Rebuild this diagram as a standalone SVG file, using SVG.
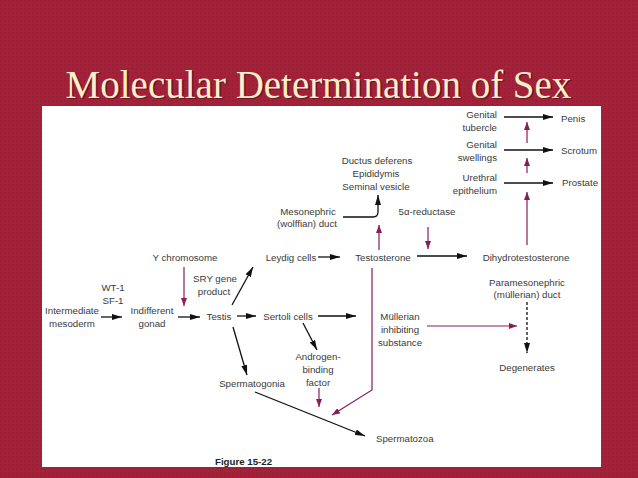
<svg xmlns="http://www.w3.org/2000/svg" width="638" height="478" viewBox="0 0 638 478">
<defs>
<pattern id="dots" width="4" height="4" patternUnits="userSpaceOnUse">
<rect width="4" height="4" fill="#a3223a"/>
<rect x="0" y="0" width="1.5" height="1.5" fill="#951d34"/>
</pattern>
<marker id="ab" viewBox="0 0 10 6" refX="10" refY="3" markerWidth="10" markerHeight="6" markerUnits="userSpaceOnUse" orient="auto"><path d="M0,0 L10,3 L0,6 z" fill="#111"/></marker>
<marker id="ap" viewBox="0 0 8 6" refX="8" refY="3" markerWidth="8" markerHeight="6" markerUnits="userSpaceOnUse" orient="auto"><path d="M0,0 L8,3 L0,6 z" fill="#8a1c5a"/></marker>
<style>
.t{font-family:"Liberation Sans",Arial,sans-serif;font-size:9.7px;fill:#3a3a3a;text-anchor:middle}
.r{text-anchor:end}
.s{text-anchor:start}
.fig{font-family:"Liberation Sans",Arial,sans-serif;font-size:9.7px;font-weight:bold;fill:#222}
.k{stroke:#111;stroke-width:1.3;fill:none}
.kh{marker-end:url(#ab)}
.p{stroke:#8a1c5a;stroke-width:1.2;fill:none}
.ph{marker-end:url(#ap)}
.title{font-family:"Liberation Serif","Times New Roman",serif;font-size:39px;text-anchor:middle}
</style>
</defs>
<rect width="638" height="478" fill="url(#dots)"/>
<text class="title" x="320" y="99" fill="#5a0d1c" opacity="0.7">Molecular Determination of Sex</text>
<text class="title" x="318.5" y="97.5" fill="#fbefc9">Molecular Determination of Sex</text>
<rect x="42" y="106" width="559" height="361" fill="#ffffff"/>

<g id="connectors">
<path class="k kh" d="M101,317 H122"/>
<path class="k kh" d="M178,317 H200"/>
<path class="k kh" d="M232,305 L253,267"/>
<path class="k kh" d="M237,316 H256"/>
<path class="k kh" d="M233,327 L247,375"/>
<path class="k kh" d="M318,257 H340"/>
<path class="k kh" d="M417,256 H467"/>
<path class="k kh" d="M318,316 H356"/>
<path class="k kh" d="M303,323 L317,350"/>
<path class="k kh" d="M255,392 L365,436"/>
<path class="k kh" d="M343,217 H373 Q378,217 378,212 V195"/>
<path class="k kh" d="M504,117 H553"/>
<path class="k kh" d="M504,150 H553"/>
<path class="k kh" d="M504,183 H553"/>
<path class="k kh" d="M527,302 V353" stroke-dasharray="3,2"/>
<path class="p ph" d="M184,267 V306"/>
<path class="p ph" d="M379,250 V225"/>
<path class="p ph" d="M428,227 V249"/>
<path class="p ph" d="M527,245 V192"/>
<path class="p ph" d="M527,173 V158"/>
<path class="p ph" d="M527,143 V122"/>
<path class="p ph" d="M427,326 H517"/>
<path class="p ph" d="M319,388 V407"/>
<path class="p ph" d="M372,268 V390 L332,415"/>
</g>

<g id="intermediate-mesoderm"><text class="t" x="72" y="314">Intermediate</text><text class="t" x="72" y="327">mesoderm</text></g>
<g id="wt1-sf1"><text class="t" x="113" y="291">WT-1</text><text class="t" x="113" y="304">SF-1</text></g>
<g id="indifferent-gonad"><text class="t" x="152" y="314">Indifferent</text><text class="t" x="152" y="327">gonad</text></g>
<g id="y-chromosome"><text class="t" x="185" y="261">Y chromosome</text></g>
<g id="sry"><text class="t" x="215" y="282">SRY gene</text><text class="t" x="214" y="295">product</text></g>
<g id="testis"><text class="t" x="219" y="320">Testis</text></g>
<g id="leydig"><text class="t" x="291" y="261">Leydig cells</text></g>
<g id="sertoli"><text class="t" x="288" y="320">Sertoli cells</text></g>
<g id="testosterone"><text class="t" x="383" y="261">Testosterone</text></g>
<g id="dht"><text class="t" x="526" y="261">Dihydrotestosterone</text></g>
<g id="mesonephric"><text class="t" x="308" y="215">Mesonephric</text><text class="t" x="307" y="227">(wolffian) duct</text></g>
<g id="ductus"><text class="t" x="377" y="164">Ductus deferens</text><text class="t" x="376" y="177">Epididymis</text><text class="t" x="376" y="190">Seminal vesicle</text></g>
<g id="reductase"><text class="t" x="427" y="215">5α-reductase</text></g>
<g id="genital-tubercle"><text class="t r" x="497" y="118">Genital</text><text class="t r" x="497" y="131">tubercle</text></g>
<g id="genital-swellings"><text class="t r" x="497" y="148">Genital</text><text class="t r" x="497" y="161">swellings</text></g>
<g id="urethral"><text class="t r" x="497" y="181">Urethral</text><text class="t r" x="497" y="194">epithelium</text></g>
<g id="penis"><text class="t s" x="561" y="122">Penis</text></g>
<g id="scrotum"><text class="t s" x="561" y="154">Scrotum</text></g>
<g id="prostate"><text class="t s" x="562" y="186">Prostate</text></g>
<g id="paramesonephric"><text class="t" x="527" y="286">Paramesonephric</text><text class="t" x="527" y="298">(müllerian) duct</text></g>
<g id="mis"><text class="t" x="400" y="320">Müllerian</text><text class="t" x="400" y="333">inhibiting</text><text class="t" x="400" y="346">substance</text></g>
<g id="degenerates"><text class="t" x="527" y="371">Degenerates</text></g>
<g id="abf"><text class="t" x="318" y="360">Androgen-</text><text class="t" x="318" y="373">binding</text><text class="t" x="318" y="386">factor</text></g>
<g id="spermatogonia"><text class="t" x="252" y="387">Spermatogonia</text></g>
<g id="spermatozoa"><text class="t s" x="376" y="442">Spermatozoa</text></g>
<g id="figure-label"><text class="fig" x="215" y="465">Figure 15-22</text></g>
</svg>
